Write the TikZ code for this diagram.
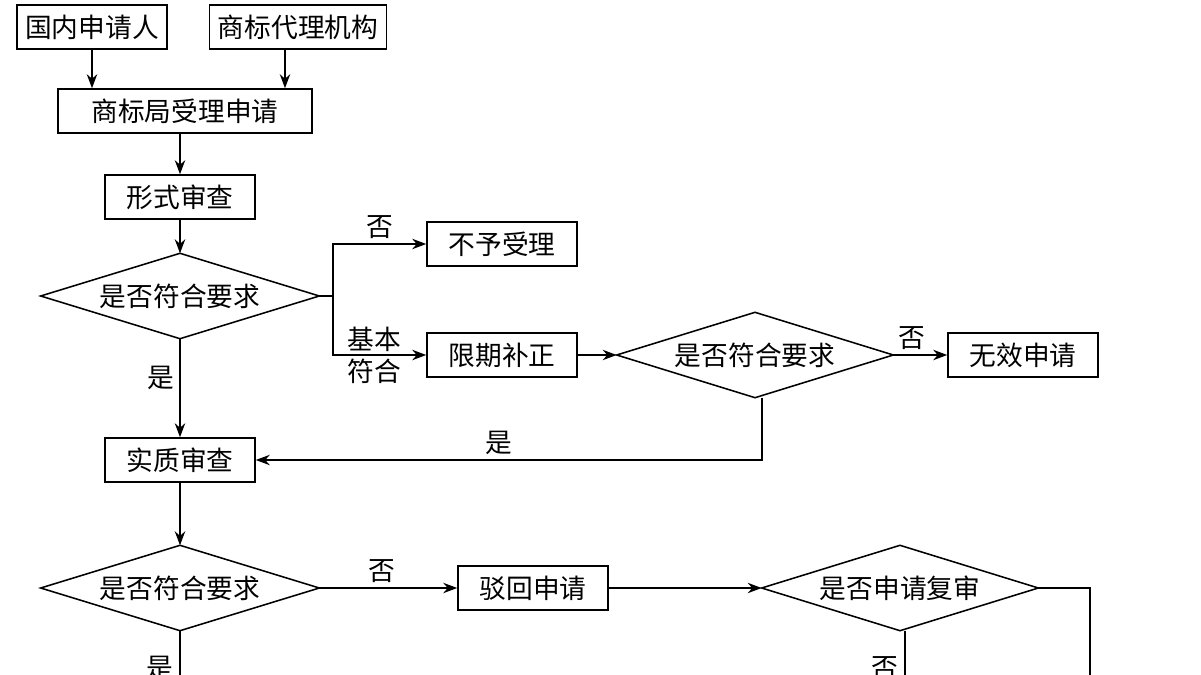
\documentclass[tikz,border=0pt]{standalone}
\usepackage{fontspec}
\setmainfont{Noto Sans CJK SC}
\usetikzlibrary{arrows.meta,positioning}

\begin{document}
\begin{tikzpicture}[
    x=0.025cm, y=-0.025cm,
    every node/.style={font=\fontsize{19}{22}\selectfont},
    box/.style={rectangle, draw, line width=1.1pt, minimum height=1.1cm, inner xsep=6pt, text centered},
    check/.style={rectangle, minimum width=6.95cm, minimum height=2.12cm, inner sep=0pt, text centered},
    arrow/.style={-{Stealth[length=3.5mm, width=2.6mm]}, line width=1.1pt},
    line/.style={line width=1.1pt}
]
    \useasboundingbox (0,0) rectangle (1201,675);
    % Application
    \node[box] (domestic) at (92,27) {国内申请人};
    \node[box] (agency) at (298,27) {商标代理机构};
    \node[box, minimum width=6.35cm] (accept) at (185,111) {商标局受理申请};
    \node[box, minimum width=3.75cm] (formal) at (180,197) {形式审查};
    \node[check] (check1) at (180,296) {是否符合要求};

    % Formal review results
    \node[box, minimum width=3.75cm] (reject) at (502,244) {不予受理};
    \node[box, minimum width=3.75cm] (amend) at (502,355) {限期补正};
    \node[check, minimum width=6.9cm] (check2) at (755,355) {是否符合要求};
    \node[box, minimum width=3.75cm] (invalid) at (1023,355) {无效申请};

    % Substantive review
    \node[box, minimum width=3.75cm] (subst) at (180,460) {实质审查};
    \node[check] (check3) at (180,588) {是否符合要求};
    \node[box, minimum width=3.75cm] (refuse) at (533,588) {驳回申请};
    \node[check, minimum width=6.9cm] (review) at (900,588) {是否申请复审};

    % Diamond outlines
    \foreach \n in {check1,check2,check3,review}
        \draw[line] (\n.west) -- (\n.north) -- (\n.east) -- (\n.south) -- cycle;

    \coordinate (fork) at (333,296);
    \coordinate (back) at (762,460);
    \coordinate (down3) at (180,720);
    \coordinate (down4) at (905,720);
    \coordinate (side4) at (1090,588);
    \coordinate (side4b) at (1090,720);

    % Arrows
    \draw[arrow] (domestic.south) -- (accept.north -| domestic);
    \draw[arrow] (agency.south -| 285,0) -- (accept.north -| 285,0);
    \draw[arrow] (accept.south -| formal) -- (formal);
    \draw[arrow] (formal) -- (check1.north);
    \draw[arrow] (check1.south) -- node[left, pos=0.4] {是} (subst);
    \draw[line] (check1.east) -- (fork);
    \draw[arrow] (fork) |- node[above, pos=0.75] {否} (reject);
    \draw[arrow] (fork) |- node[above, pos=0.72, inner sep=2pt] {基本} node[below, pos=0.72, inner sep=2pt] {符合} (amend);
    \draw[arrow] (amend) -- (check2.west);
    \draw[arrow] (check2.east) -- node[above, pos=0.35] {否} (invalid);
    \draw[arrow] (check2.south -| back) -- (back) -- node[above, pos=0.52] {是} (subst);
    \draw[arrow] (subst) -- (check3.north);
    \draw[arrow] (check3.east) -- node[above, pos=0.45] {否} (refuse);
    \draw[arrow] (refuse) -- (review.west);
    \draw[line] (check3.south) -- (down3);
    \node at (160,668) {是};
    \draw[line] (review.south -| down4) -- (down4);
    \node at (885,668) {否};
    \draw[line] (review.east) -- (side4) -- (side4b);
\end{tikzpicture}
\end{document}
